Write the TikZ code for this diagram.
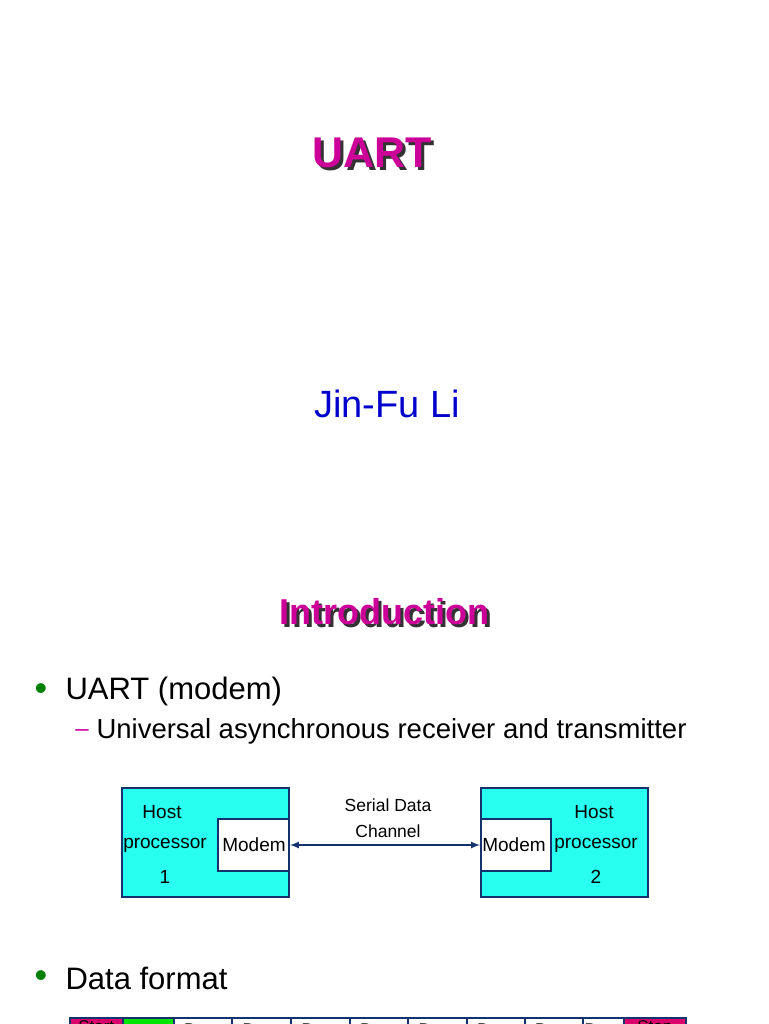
\documentclass[tikz,border=0pt]{standalone}
\usepackage{fontspec}
\setmainfont{Liberation Sans}
\definecolor{mag}{RGB}{204,0,153}
\definecolor{cy}{RGB}{40,255,240}
\definecolor{dblue}{RGB}{20,50,110}
\begin{document}
\begin{tikzpicture}[x=1pt,y=-1pt,
  ttl/.style={font=\bfseries\fontsize{43}{43}\selectfont,text=mag},
  shd/.style={font=\bfseries\fontsize{43}{43}\selectfont,text=black!80},
  host/.style={draw=dblue,line width=2pt,fill=cy,anchor=north west},
  modem/.style={draw=dblue,line width=2pt,fill=white,anchor=north west},
  lbl/.style={font=\fontsize{19}{23}\selectfont,align=center},
  bul/.style={font=\fontsize{31}{31}\selectfont,anchor=west},
  cell/.style={draw=dblue,line width=1.5pt,anchor=north west,minimum height=20pt,inner sep=0pt}]
\useasboundingbox (0,0) rectangle (768,1024);
\node[shd] at (375,156) {UART};
\node[ttl] (t1) at (372,153) {UART};
\node[font=\fontsize{38}{38}\selectfont,text=blue!80!black] (a) at (387,404) {Jin-Fu Li};
\node[shd,font=\bfseries\fontsize{36}{36}\selectfont] at (387,615) {Introduction};
\node[ttl,font=\bfseries\fontsize{36}{36}\selectfont] (t2) at (384,612) {Introduction};
\node[text=green!50!black,font=\fontsize{36}{36}\selectfont] (b1) at (41,692) {•};
\node[bul] (u) at (62,691) {UART (modem)};
\node[font=\fontsize{24}{24}\selectfont,text=mag] (d) at (82,733) {–};
\node[bul,font=\fontsize{27.5}{28}\selectfont] (s) at (93,731) {Universal asynchronous receiver and transmitter};
\node[host,minimum width=167pt,minimum height=109pt] (h1) at (121,787) {};
\node[modem,minimum width=71pt,minimum height=52pt] (m1) at (217,818) {};
\node[host,minimum width=167pt,minimum height=109pt] (h2) at (480,787) {};
\node[modem,minimum width=70pt,minimum height=52pt] (m2) at (480,818) {};
\node[lbl] (l1) at (162,812) {Host};
\node[lbl] (l2) at (165,845) {processor};
\node[lbl] (l3) at (165,877) {1};
\node[lbl] (r1) at (594,812) {Host};
\node[lbl] (r2) at (596,845) {processor};
\node[lbl] (r3) at (596,877) {2};
\node[lbl] (mm1) at (254,845) {Modem};
\node[lbl] (mm2) at (514,845) {Modem};
\node[lbl,font=\fontsize{17.5}{26}\selectfont] (ch) at (388,818) {Serial Data\\Channel};
\draw[<->,>=latex,line width=2pt,draw=dblue] (m1.east) -- (m2.west);
\node[text=green!50!black,font=\fontsize{36}{36}\selectfont] (b2) at (41,979) {•};
\node[bul] (df) at (62,978) {Data format};
\begin{scope}
\clip (0,0) rectangle (768,1024);
\node[cell,fill=mag!70!red,minimum width=53pt] (c0) at (69,1017) {};
\node[cell,fill=green!90!black,minimum width=51pt] (c1) at (122,1017) {};
\foreach \a/\b [count=\i] in {173/231,231/290,290/349,349/407,407/466,466/524,524/582,582/623}{
  \node[cell,fill=white,minimum width=\b-\a] (d\i) at (\a,1017) {};
  \node[font=\fontsize{17}{17}\selectfont,anchor=north] (dt\i) at ({(\a+\b)/2},1020) {Data};
}
\node[cell,fill=mag!70!red,minimum width=62pt] (c2) at (623,1017) {};
\node[font=\fontsize{17}{17}\selectfont,anchor=north] (st1) at (c0.north) {Start};
\node[font=\fontsize{17}{17}\selectfont,anchor=north] (st2) at (c2.north) {Stop};
\end{scope}
\end{tikzpicture}
\end{document}
